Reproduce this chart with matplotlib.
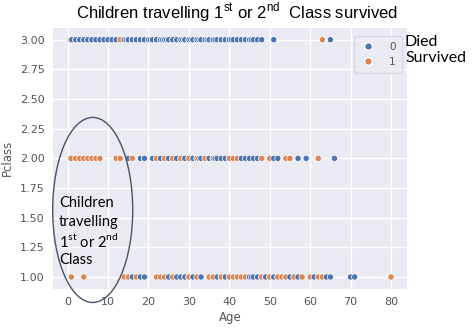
"""Scatter of Age vs Pclass coloured by survival, with the children annotation."""
import matplotlib
matplotlib.use("Agg")
import numpy as np
import matplotlib.pyplot as plt
from matplotlib.patches import Ellipse
from matplotlib.lines import Line2D

# Ages, per class and outcome
c1_died = [16, 18, 19, 22, 24, 25, 27, 28, 29, 30, 31, 33, 36, 37, 38, 39, 40, 42, 44,
           45, 45.5, 46, 47, 48, 49, 50, 51, 52, 54, 55, 56, 57, 61, 64, 65, 70, 71]
c1_surv = [0.92, 4, 14, 15, 17, 22, 23, 24, 25, 26, 27, 29, 30, 31, 32, 33, 35, 36, 38,
           39, 40, 41, 42, 43, 44, 45, 47, 48, 49, 50, 51, 52, 53, 54, 56, 58, 60, 62, 63, 80]
c2_died = [15, 18, 19, 21, 23, 24, 25, 26, 27, 28, 29, 30, 31, 32, 32.5, 33, 34, 35, 36,
           36.5, 37, 38, 39, 40, 42, 43, 44, 45, 46, 47, 48, 51, 52, 57, 59, 66]
c2_surv = [0.67, 0.83, 1, 2, 3, 4, 5, 6, 7, 8, 12, 13, 16, 19, 21, 22, 23, 24, 25, 26, 27,
           28, 29, 30, 31, 32, 33, 34, 35, 36, 40, 41, 42, 45, 48, 50, 54, 55, 62]
c3_died = [1, 2, 3, 4, 5, 6, 7, 8, 9, 10, 11, 12, 14, 14.5, 15, 16, 17, 18, 19, 20, 20.5,
           21, 22, 23, 23.5, 24, 24.5, 25, 26, 27, 28, 28.5, 29, 30, 30.5, 31, 32, 32.5, 33,
           34, 34.5, 35, 36, 36.5, 37, 38, 39, 40, 40.5, 41, 42, 43, 44, 45, 45.5, 46, 47,
           48, 51, 65]
c3_surv = [0.42, 0.75, 1, 2, 3, 4, 5, 6, 13, 14, 15, 16, 17, 18, 19, 20, 21, 22, 23, 24,
           25, 26, 27, 28, 29, 30, 31, 32, 33, 35, 36, 38, 39, 40, 44, 45, 63]

BLUE = "#4C72B0"
ORANGE = "#DD8452"
GREY = "#555555"

fig = plt.figure(figsize=(4.74, 3.32), dpi=100)
ax = fig.add_axes([0.112, 0.130, 0.747, 0.786])
ax.set_facecolor("#EAEAF2")
for s in ax.spines.values():
    s.set_visible(False)
ax.grid(color="white", lw=1)
ax.set_axisbelow(True)

# draw each row in age order so the two outcomes overlap each other in turn
for pc, died, surv in [(1, c1_died, c1_surv), (2, c2_died, c2_surv), (3, c3_died, c3_surv)]:
    ages = np.array(died + surv, dtype=float)
    is_orange = np.array([False] * len(died) + [True] * len(surv))
    if pc == 3:
        orange_first = np.ones(len(ages), dtype=bool)
    else:
        orange_first = (np.floor(ages) % 2 == 1)
    shift = np.where(is_orange == orange_first, 0.0, 0.3)
    order = np.argsort(ages + shift, kind="stable")
    cols = np.where(is_orange, ORANGE, BLUE)
    ax.scatter(ages[order], np.full(len(ages), pc), c=cols[order], s=20,
               edgecolor="white", linewidths=0.5, zorder=3)

ax.set_xlim(-3.6, 84.0)
ax.set_ylim(0.9, 3.1)
ax.set_xticks(range(0, 81, 10))
ax.set_yticks(np.arange(1.0, 3.01, 0.25))
ax.set_yticklabels([f"{v:.2f}" for v in np.arange(1.0, 3.01, 0.25)])
ax.tick_params(length=0, labelsize=8, labelcolor=GREY, pad=6)
ax.set_xlabel("Age", fontsize=8.5, color=GREY, labelpad=3)
ax.set_ylabel("Pclass", fontsize=8.5, color=GREY, labelpad=4)

handles = [Line2D([], [], marker="o", ls="", color=BLUE, mec="white", ms=5.5),
           Line2D([], [], marker="o", ls="", color=ORANGE, mec="white", ms=5.5)]
leg = ax.legend(handles, ["0", "1"], loc="upper right", bbox_to_anchor=(1.0, 0.99),
                fontsize=7.5, labelcolor=GREY, frameon=True, handletextpad=1.2,
                borderpad=0.6, labelspacing=0.45, handlelength=1.6)
leg.get_frame().set_facecolor("#EAEAF2")
leg.get_frame().set_edgecolor("#D5D5DD")

# annotations added on top of the chart
fig.text(0.5, 1 - 12 / 332,
         "Children travelling 1$^{\\mathregular{st}}$ or 2$^{\\mathregular{nd}}$  Class survived",
         ha="center", va="center", fontsize=12, family="Liberation Sans")
fig.text(405 / 474, 1 - 42 / 332, "Died", ha="left", va="center", fontsize=11.5, family="Lato")
fig.text(405 / 474, 1 - 58 / 332, "Survived", ha="left", va="center", fontsize=11.5, family="Lato")

ax.add_patch(Ellipse((6.2, 1.565), 19.8, 1.56, fill=False, edgecolor="#44546A",
                     lw=1, clip_on=False, zorder=5))
lines = ["Children", "travelling",
         "1$^{\\mathregular{st}}$ or 2$^{\\mathregular{nd}}$", "Class"]
for yy, txt in zip([203, 222, 241, 260], lines):
    fig.text(59 / 474, 1 - yy / 332, txt, ha="left", va="center",
             fontsize=10.5, family="Lato")

fig.savefig("out.png", dpi=100)
